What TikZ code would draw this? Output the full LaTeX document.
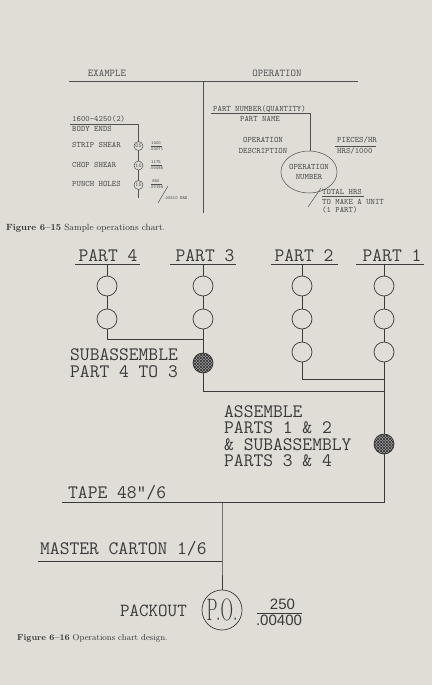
\documentclass[tikz,border=0pt]{standalone}
\usepackage{fontspec}
\usepackage{graphicx}
\newfontfamily\sansf{Liberation Sans}
\usetikzlibrary{patterns,shapes.geometric}
\definecolor{bg}{RGB}{223,221,214}
\definecolor{ink}{RGB}{58,58,58}
\definecolor{inklt}{RGB}{80,80,80}
\begin{document}
\begin{tikzpicture}[x=1pt,y=-1pt,
  ln/.style={draw=ink, line width=0.7pt},
  lnt/.style={draw=inklt, line width=0.5pt},
  big/.style={inner sep=0, text=ink, font=\fontsize{19}{19}\ttfamily, text height=11.5pt, text depth=1pt},
  bigw/.style={big, anchor=west},
  sm/.style={inner sep=0, text=inklt, font=\fontsize{8.3}{8.3}\ttfamily},
  smw/.style={sm, anchor=west},
  hd/.style={inner sep=0, text=inklt, font=\fontsize{10.4}{10.4}\ttfamily},
  tinyt/.style={inner sep=0, text=inklt, font=\fontsize{4.6}{4.6}\ttfamily\bfseries},
  opc/.style={circle, draw=ink, fill=bg, minimum size=20pt, inner sep=0, line width=0.7pt},
  hatc/.style={circle, draw=ink, minimum size=20pt, inner sep=0, line width=0.7pt, fill=black!38,
    postaction={pattern=north east lines, pattern color=black!80},
    postaction={pattern=north west lines, pattern color=black!80}},
  exc/.style={circle, draw=inklt, fill=bg, minimum size=9pt, inner sep=0, line width=0.5pt, text=inklt, font=\fontsize{5.8}{5.8}\ttfamily},
  captxt/.style={anchor=west, inner sep=0, text=black!80, font=\fontsize{9}{9}\rmfamily}
]
\useasboundingbox (0,0) rectangle (432,685);
\fill[bg] (0,0) rectangle (432,685);

% ===== Figure 6-15 =====
\node[hd] (hex) at (107,73) {EXAMPLE};
\node[hd] (hop) at (277,73) {OPERATION};
\coordinate (tl) at (69,81); \coordinate (tr) at (358,81);
\coordinate (dvt) at (203,81); \coordinate (dvb) at (203,213);
\draw[lnt] (tl) -- (tr);
\draw[lnt] (dvt) -- (dvb);

% example column
\node[smw] (pn) at (72,119) {1600-4250(2)};
\node[smw] (bn) at (72,128.5) {BODY ENDS};
\coordinate (exl) at (70,124); \coordinate (exc) at (138.5,124); \coordinate (exb) at (138.5,198);
\draw[lnt] (exl) -- (exc) -- (exb);
\node[smw] (s1) at (72,145) {STRIP SHEAR};
\node[smw] (s2) at (72,164.5) {CHOP SHEAR};
\node[smw] (s3) at (72,184) {PUNCH HOLES};
\node[exc] (c05) at (138.5,146) {05};
\node[exc] (c10) at (138.5,165.5) {10};
\node[exc] (c15) at (138.5,185) {15};
\node[tinyt] (f1n) at (156,143) {1400};
\node[tinyt] (f1d) at (156,149.5) {.00071};
\draw[lnt, line width=0.35pt] (151,146.2) -- (161.5,146.2);
\node[tinyt] (f2n) at (156,162) {1175};
\node[tinyt] (f2d) at (156,168.5) {.00085};
\draw[lnt, line width=0.35pt] (151,165.2) -- (161.5,165.2);
\node[tinyt] (f3n) at (156,181) {850};
\node[tinyt] (f3d) at (156,187.5) {.00154};
\draw[lnt, line width=0.35pt] (151,184.2) -- (161.5,184.2);
\coordinate (sl1a) at (158,203); \coordinate (sl1b) at (168,186);
\draw[lnt] (sl1a) -- (sl1b);
\node[tinyt, anchor=west] (tot1) at (163,198.5) {.00310 HRS.};

% operation legend
\node[smw] (pnq) at (213,109) {PART NUMBER(QUANTITY)};
\node[sm] (pnm) at (260,118.5) {PART NAME};
\coordinate (pql) at (211,113); \coordinate (pqr) at (310,113);
\node[sm] (od1) at (263,139.5) {OPERATION};
\node[sm] (od2) at (263,150.5) {DESCRIPTION};
\node[ellipse, draw=inklt, line width=0.5pt, minimum width=52pt, minimum height=42pt, inner sep=0,
  align=center, text=inklt, font=\fontsize{8.3}{10.5}\ttfamily] (opn) at (309,172) {OPERATION\\NUMBER};
\draw[lnt] (pql) -- (pqr) -- (pqr |- opn.north);
\node[smw] (ph) at (337,140) {PIECES/HR};
\node[smw] (hk) at (337,151) {HRS/1000};
\coordinate (phl) at (335,146); \coordinate (phr) at (376,146);
\draw[lnt] (phl) -- (phr);
\coordinate (sl2a) at (308,207); \coordinate (sl2b) at (321,188);
\draw[lnt] (sl2a) -- (sl2b);
\node[smw] (th1) at (322,191.5) {TOTAL HRS};
\coordinate (thl) at (322,196.5); \coordinate (thr) at (364,196.5);
\draw[lnt] (thl) -- (thr);
\node[smw] (th2) at (322,202) {TO MAKE A UNIT};
\node[smw] (th3) at (322,210) {(1 PART)};

\node[captxt] (cap1) at (6,228) {\textbf{Figure 6--15} Sample operations chart.};

% ===== Figure 6-16 =====
\node[big] (t4) at (108,256.5) {PART 4};
\node[big] (t3) at (205,256.5) {PART 3};
\node[big] (t2) at (304,256.5) {PART 2};
\node[big] (t1) at (392,256.5) {PART 1};
\draw[ln] (75,264) -- (140,264);
\draw[ln] (170,264) -- (236,264);
\draw[ln] (271,264) -- (338,264);
\draw[ln] (356,264) -- (424,264);

% part 4
\coordinate (p4top) at (107,264);
\node[opc] (p4a) at (107,286) {};
\node[opc] (p4b) at (107,319) {};
\coordinate (p4end) at (107,339);
\coordinate (j43) at (203,339);
\draw[ln] (p4top) -- (p4a) -- (p4b) -- (p4end) -- (j43);

% part 3
\coordinate (p3top) at (203,264);
\node[opc] (p3a) at (203,286) {};
\node[opc] (p3b) at (203,319) {};
\node[hatc] (hs1) at (203,363) {};
\coordinate (p3end) at (203,391);
\coordinate (j31) at (384,391);
\draw[ln] (p3top) -- (p3a) -- (p3b) -- (hs1) -- (p3end) -- (j31);
\node[bigw] (sa1) at (70,355) {SUBASSEMBLE};
\node[bigw] (sa2) at (70,372) {PART 4 TO 3};

% part 2
\coordinate (p2top) at (302,264);
\node[opc] (p2a) at (302,286) {};
\node[opc] (p2b) at (302,319) {};
\node[opc] (p2c) at (302,352) {};
\coordinate (p2end) at (302,379);
\coordinate (j21) at (384,379);
\draw[ln] (p2top) -- (p2a) -- (p2b) -- (p2c) -- (p2end) -- (j21);

% part 1
\coordinate (p1top) at (384,264);
\node[opc] (p1a) at (384,286) {};
\node[opc] (p1b) at (384,319) {};
\node[opc] (p1c) at (384,352) {};
\node[hatc] (hs2) at (384,444) {};
\coordinate (p1end) at (384,502);
\coordinate (tapeL) at (62,502);
\draw[ln] (p1top) -- (p1a) -- (p1b) -- (p1c) -- (hs2) -- (p1end) -- (tapeL);
\node[bigw] (as1) at (224,412) {ASSEMBLE};
\node[bigw] (as2) at (224,428.5) {PARTS 1 \& 2};
\node[bigw] (as3) at (224,445) {\& SUBASSEMBLY};
\node[bigw] (as4) at (224,461.5) {PARTS 3 \& 4};

\node[bigw] (tape) at (68,493) {TAPE 48"/6};
\coordinate (tapeJ) at (222,502);
\coordinate (mcJ) at (222,561);
\coordinate (mcL) at (38,561);
\node[bigw] (mc) at (40,549) {MASTER CARTON 1/6};
\node[circle, draw=ink, line width=0.7pt, minimum size=40pt, inner sep=0, text=ink,
  font=\fontsize{31}{31}\rmfamily] (po) at (222,610) {\scalebox{0.56}[1]{P.O.}};
\draw[ln] (tapeJ) -- (mcJ) -- (po);
\draw[ln] (mcJ) -- (mcL);
\node[inner sep=0, text=ink, font=\fontsize{18.5}{18.5}\ttfamily, anchor=east] (pk) at (187,611) {PACKOUT};
\node[inner sep=0, text=ink, font=\fontsize{15}{15}\sansf] (n250) at (282.5,604) {250};
\node[inner sep=0, text=ink, font=\fontsize{15}{15}\sansf] (n400) at (279,620) {.00400};
\coordinate (frl) at (257,613); \coordinate (frr) at (302,613);
\draw[ln] (frl) -- (frr);

\node[captxt, font=\fontsize{8.6}{8.6}\rmfamily] (cap2) at (17,638) {\textbf{Figure 6--16} Operations chart design.};
\end{tikzpicture}
\end{document}
